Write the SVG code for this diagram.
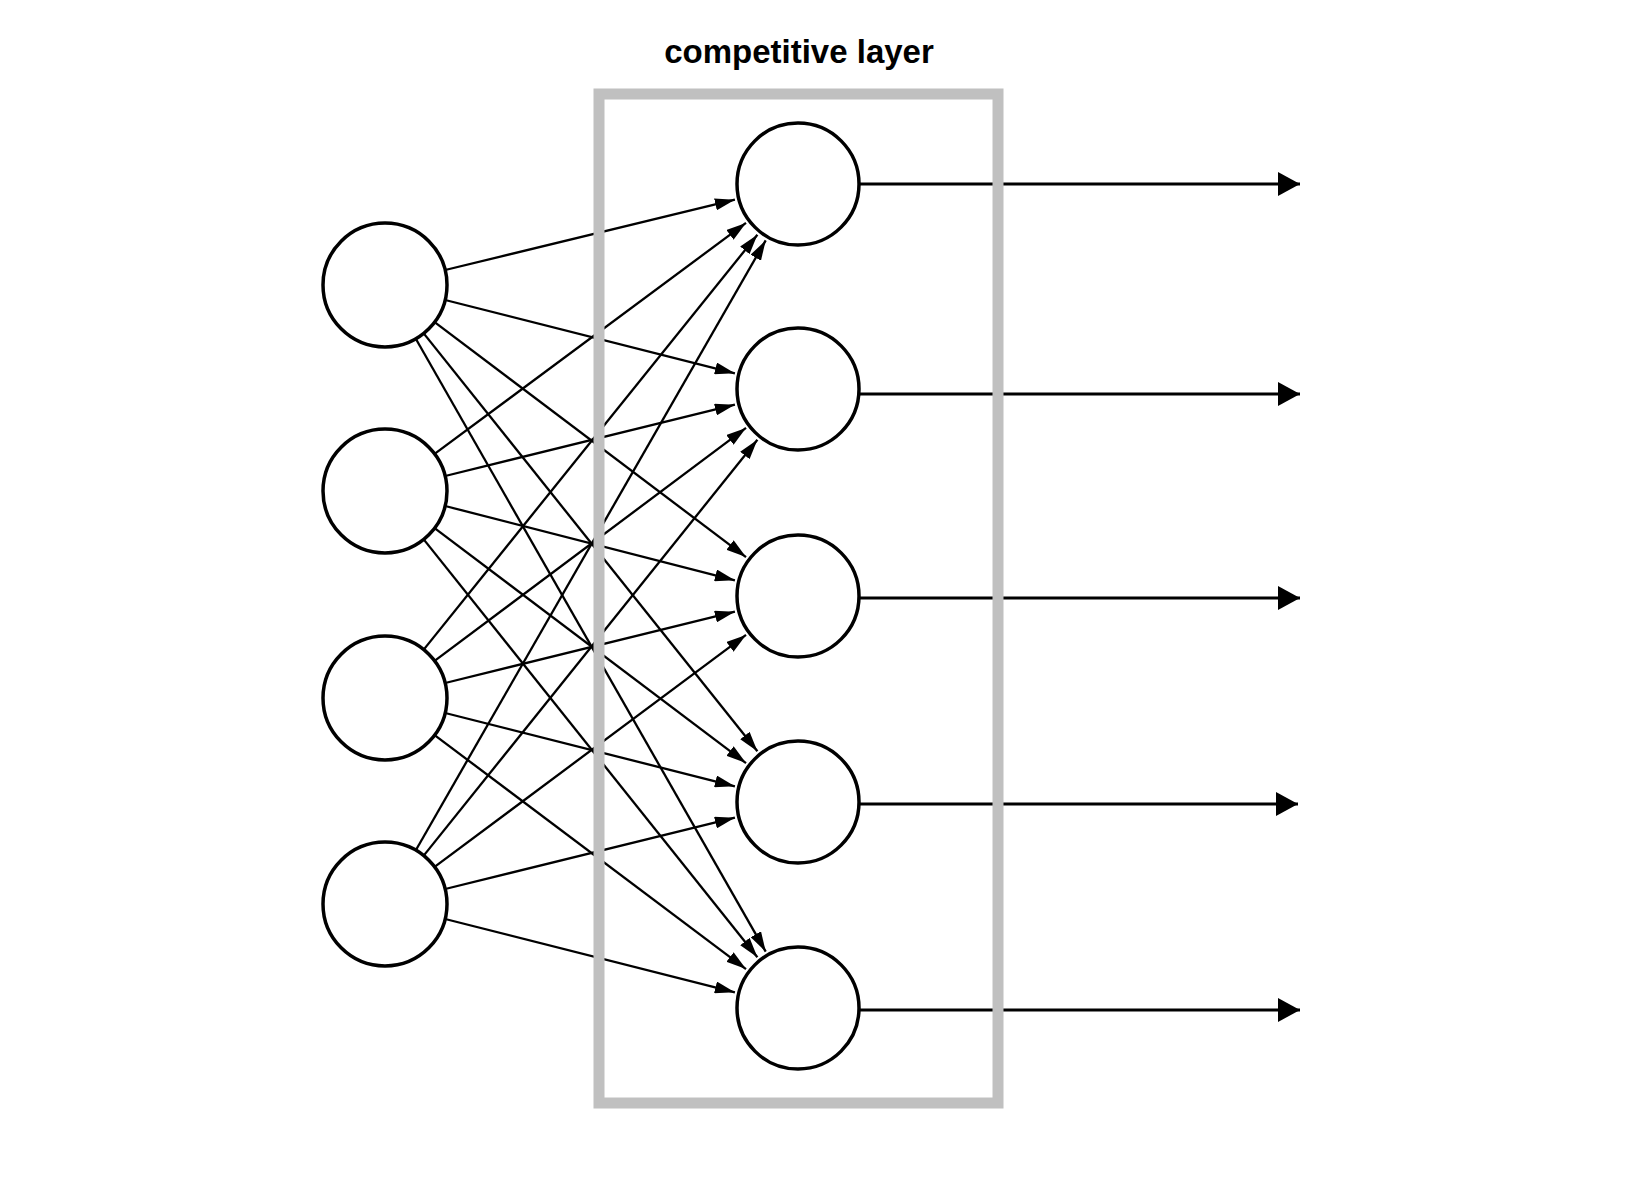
<svg xmlns="http://www.w3.org/2000/svg" width="1650" height="1184" viewBox="0 0 1650 1184">
<style>
.node{fill:#fff;stroke:#000;stroke-width:3.5}
.c{stroke:#000;stroke-width:2.3;fill:none;marker-end:url(#ah)}
.o{stroke:#000;stroke-width:3;fill:none;marker-end:url(#ao)}
.title{font-family:"Liberation Sans",Arial,sans-serif;font-weight:900;font-size:33px;fill:#000}
</style>
<defs>
<marker id="ah" markerUnits="userSpaceOnUse" markerWidth="20" markerHeight="12" refX="20" refY="6" orient="auto"><path d="M0,0 L20,6 L0,12 z" fill="#000"/></marker>
<marker id="ao" markerUnits="userSpaceOnUse" markerWidth="22" markerHeight="24" refX="22" refY="12" orient="auto"><path d="M0,0 L22,12 L0,24 z" fill="#000"/></marker>
</defs>
<rect width="1650" height="1184" fill="#fff"/>
<text class="title" x="799" y="63" text-anchor="middle">competitive layer</text>
<g id="connectors">
<line class="c" x1="445.2" y1="270" x2="734.9" y2="199.7"/>
<line class="c" x1="445.2" y1="300" x2="734.9" y2="373.3"/>
<line class="c" x1="434.6" y1="322.1" x2="746" y2="557.1"/>
<line class="c" x1="423.7" y1="333.4" x2="757.4" y2="751.2"/>
<line class="c" x1="415.8" y1="338.8" x2="765.7" y2="951.6"/>
<line class="c" x1="434.6" y1="453.9" x2="746" y2="222.9"/>
<line class="c" x1="445.2" y1="476" x2="734.9" y2="404.7"/>
<line class="c" x1="445.2" y1="506" x2="734.9" y2="580.3"/>
<line class="c" x1="434.6" y1="528.1" x2="746" y2="763.1"/>
<line class="c" x1="423.7" y1="539.4" x2="757.4" y2="957.2"/>
<line class="c" x1="423.7" y1="649.6" x2="757.4" y2="234.8"/>
<line class="c" x1="434.6" y1="660.9" x2="746" y2="427.9"/>
<line class="c" x1="445.2" y1="683" x2="734.9" y2="611.7"/>
<line class="c" x1="445.2" y1="713" x2="734.9" y2="786.3"/>
<line class="c" x1="434.6" y1="735.1" x2="746" y2="969.1"/>
<line class="c" x1="415.8" y1="850.2" x2="765.7" y2="240.4"/>
<line class="c" x1="423.7" y1="855.6" x2="757.4" y2="439.8"/>
<line class="c" x1="434.6" y1="866.9" x2="746" y2="634.9"/>
<line class="c" x1="445.2" y1="889" x2="734.9" y2="817.7"/>
<line class="c" x1="445.2" y1="919" x2="734.9" y2="992.3"/>
<line class="o" x1="860" y1="184" x2="1300" y2="184"/>
<line class="o" x1="860" y1="394" x2="1300" y2="394"/>
<line class="o" x1="860" y1="598" x2="1300" y2="598"/>
<line class="o" x1="860" y1="804" x2="1298" y2="804"/>
<line class="o" x1="860" y1="1010" x2="1300" y2="1010"/>
</g>
<rect id="layer-box" x="599" y="94" width="399" height="1009" fill="none" stroke="#c0c0c0" stroke-width="11"/>
<g id="in1"><circle class="node" cx="385" cy="285" r="62"/></g>
<g id="in2"><circle class="node" cx="385" cy="491" r="62"/></g>
<g id="in3"><circle class="node" cx="385" cy="698" r="62"/></g>
<g id="in4"><circle class="node" cx="385" cy="904" r="62"/></g>
<g id="out1"><circle class="node" cx="798" cy="184" r="61"/></g>
<g id="out2"><circle class="node" cx="798" cy="389" r="61"/></g>
<g id="out3"><circle class="node" cx="798" cy="596" r="61"/></g>
<g id="out4"><circle class="node" cx="798" cy="802" r="61"/></g>
<g id="out5"><circle class="node" cx="798" cy="1008" r="61"/></g>
</svg>
